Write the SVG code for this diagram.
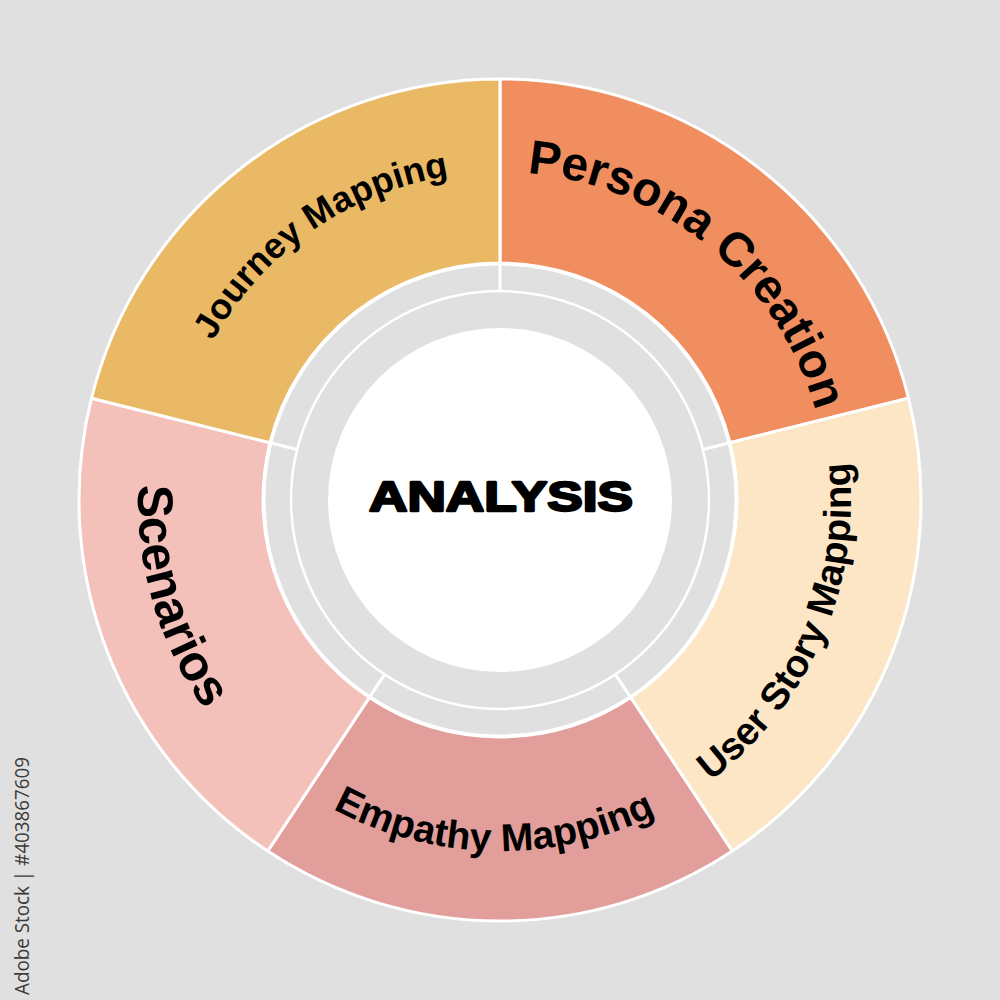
<svg xmlns="http://www.w3.org/2000/svg" width="1000" height="1000" viewBox="0 0 1000 1000">
  <style>
    .seg { stroke: #ffffff; stroke-width: 3; stroke-linejoin: round; }
    .lbl { font-family: "Liberation Sans", Arial, sans-serif; font-weight: bold; fill: #000000; }
    .tick { stroke: #ffffff; stroke-width: 3; }
  </style>
  <defs>
    <path id="pPersona" d="M385.1,192.8 A328,328 0 0 1 823.5,554.1"/>
    <path id="pJourney" d="M173.2,528.6 A328,328 0 0 1 638.6,202.7"/>
    <path id="pUser" d="M539.7,848.7 A351,351 0 0 0 782.2,291.2"/>
    <path id="pEmpathy" d="M193,670.2 A351,351 0 0 0 800.9,680.8"/>
    <path id="pScen" d="M237.4,250.8 A362,362 0 0 0 415.5,852"/>
  </defs>
  <rect x="0" y="0" width="1000" height="1000" fill="#e0e0e0"/>

  <g id="persona-creation">
    <path class="seg" fill="#f08e60" d="M500,79 A421,421 0 0 1 908.5,398.2 L730,442.7 A237,237 0 0 0 500,263 Z"/>
    <text class="lbl" font-size="48"><textPath href="#pPersona" startOffset="50%" text-anchor="middle">Persona Creation</textPath></text>
  </g>
  <g id="user-story-mapping">
    <path class="seg" fill="#fce6c6" d="M908.5,398.2 A421,421 0 0 1 732.3,851.1 L630.8,697.6 A237,237 0 0 0 730,442.7 Z"/>
    <text class="lbl" font-size="38.5"><textPath href="#pUser" startOffset="50%" text-anchor="middle">User Story Mapping</textPath></text>
  </g>
  <g id="empathy-mapping">
    <path class="seg" fill="#e29e9a" d="M732.3,851.1 A421,421 0 0 1 267.7,851.1 L369.2,697.6 A237,237 0 0 0 630.8,697.6 Z"/>
    <text class="lbl" font-size="39"><textPath href="#pEmpathy" startOffset="50%" text-anchor="middle">Empathy Mapping</textPath></text>
  </g>
  <g id="scenarios">
    <path class="seg" fill="#f3c0ba" d="M267.7,851.1 A421,421 0 0 1 91.5,398.2 L270,442.7 A237,237 0 0 0 369.2,697.6 Z"/>
    <text class="lbl" font-size="50"><textPath href="#pScen" startOffset="50%" text-anchor="middle">Scenarios</textPath></text>
  </g>
  <g id="journey-mapping">
    <path class="seg" fill="#e9b966" d="M91.5,398.2 A421,421 0 0 1 500,79 L500,263 A237,237 0 0 0 270,442.7 Z"/>
    <text class="lbl" font-size="36"><textPath href="#pJourney" startOffset="50%" text-anchor="middle">Journey Mapping</textPath></text>
  </g>

  <g id="inner-ring">
    <circle cx="500" cy="500" r="236" fill="#e0e0e0" stroke="#ffffff" stroke-width="3"/>
    <g id="connectors">
      <line class="tick" x1="500" y1="263" x2="500" y2="290"/>
      <line class="tick" x1="730" y1="442.7" x2="703.8" y2="449.2"/>
      <line class="tick" x1="630.8" y1="697.6" x2="615.9" y2="675.1"/>
      <line class="tick" x1="369.2" y1="697.6" x2="384.1" y2="675.1"/>
      <line class="tick" x1="270" y1="442.7" x2="296.2" y2="449.2"/>
    </g>
    <circle cx="500" cy="500" r="209" fill="#e0e0e0" stroke="#ffffff" stroke-width="2.5"/>
  </g>

  <g id="analysis">
    <circle cx="500" cy="500" r="172" fill="#ffffff"/>
    <text x="501" y="511" font-family="'Liberation Sans', Arial, sans-serif" font-weight="bold" font-size="43" fill="#000000" stroke="#000000" stroke-width="2.4" stroke-linejoin="round" text-anchor="middle" textLength="264" lengthAdjust="spacingAndGlyphs">ANALYSIS</text>
  </g>

  <text transform="translate(29,995) rotate(-90)" font-family="'Open Sans', 'DejaVu Sans', sans-serif" font-size="20" fill="#3a3a3a" textLength="238" lengthAdjust="spacingAndGlyphs">Adobe Stock | #403867609</text>
</svg>
